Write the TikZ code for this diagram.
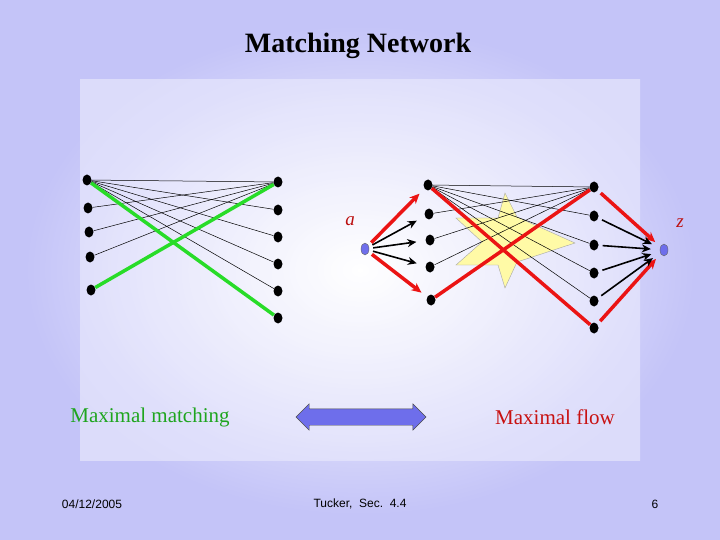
\documentclass[tikz,border=0pt]{standalone}
\usepackage{fontspec}
\setmainfont{Liberation Serif}
\newfontfamily\footfont{Liberation Sans}
\usetikzlibrary{arrows.meta,shapes.arrows,shapes.geometric}
\definecolor{bgblue}{RGB}{196,196,248}
\definecolor{mgreen}{RGB}{40,220,40}
\definecolor{mred}{RGB}{235,20,20}
\definecolor{dblue}{RGB}{110,110,235}

\begin{document}
\begin{tikzpicture}[x=1pt, y=-1pt,
    dot/.style={ellipse, fill=black, inner sep=0pt, minimum width=9pt, minimum height=11pt},
    src/.style={ellipse, fill=dblue, draw=black!60, inner sep=0pt, minimum width=8pt, minimum height=12pt},
    thin/.style={black, line width=0.5pt},
    match/.style={mgreen, line width=3.5pt},
    flow/.style={mred, line width=3.5pt},
    farr/.style={-{Stealth[length=10pt,width=9pt]}, shorten >=7pt, shorten <=4pt},
    barr/.style={black, line width=1.6pt, -{Stealth[length=9pt,width=8pt]}, shorten >=9pt, shorten <=4pt}]
  \useasboundingbox (0,0) rectangle (720,540);
  \fill[bgblue] (0,0) rectangle (720,540);
  \shade[inner color=white, outer color=bgblue, draw=none] (25,25) rectangle (695,515);
  \shade[inner color=white, outer color=white!60!bgblue, draw=none, opacity=0.7] (80,80) rectangle (640,460);

  \node (title) at (358,46) {\fontsize{28}{32}\selectfont\bfseries Matching Network};

  % left graph
  \foreach \i/\x/\y in {1/87/180, 2/88/208, 3/89/232, 4/90/257, 5/91/290}
    \node[dot] (l\i) at (\x,\y) {};
  \foreach \i/\y in {1/182, 2/210, 3/237, 4/264, 5/291, 6/318}
    \node[dot] (r\i) at (278,\y) {};
  \foreach \j in {1,...,5} \draw[thin] (l1) -- (r\j);
  \foreach \j in {2,3,4} \draw[thin] (l\j) -- (r1);
  \draw[match] (l1) -- (r6);
  \draw[match] (l5) -- (r1);

  % right network
  \fill[yellow!35, draw=gray!70] (505,193) -- (517,217) -- (575,243) -- (517,262)
    -- (505,288) -- (498,265) -- (456,265) -- (482,242) -- (456,218) -- (498,218) -- cycle;
  \node[src] (a) at (365,249) {};
  \node[src] (z) at (664,250) {};
  \node[text=mred!80!black] (alab) at (350,221) {\fontsize{19}{22}\selectfont\itshape a};
  \node[text=mred!80!black] (zlab) at (680,223) {\fontsize{19}{22}\selectfont\itshape z};
  \foreach \i/\x/\y in {1/428/185, 2/429/214, 3/430/240, 4/430/267, 5/431/300}
    \node[dot] (p\i) at (\x,\y) {};
  \foreach \i/\y in {1/187, 2/216, 3/245, 4/273, 5/301, 6/328}
    \node[dot] (q\i) at (594,\y) {};
  \foreach \j in {1,...,5} \draw[thin] (p1) -- (q\j);
  \foreach \j in {2,3,4} \draw[thin] (p\j) -- (q1);
  \draw[flow] (p1) -- (q6);
  \draw[flow] (p5) -- (q1);
  \draw[flow, farr] (a) -- (p1);
  \draw[flow, farr] (a) -- (p5);
  \foreach \j in {2,3,4} \draw[barr] (a) -- (p\j);
  \draw[flow, farr] (q1) -- (z);
  \draw[flow, farr] (q6) -- (z);
  \foreach \j in {2,...,5} \draw[barr] (q\j) -- (z);

  % bottom
  \node[text=mgreen!75!black] (mm) at (150,417) {\fontsize{21}{24}\selectfont Maximal matching};
  \node[text=mred!85!black] (mf) at (555,417) {\fontsize{21}{24}\selectfont Maximal flow};
  \node[double arrow, fill=dblue, draw=black!70, inner sep=8pt, double arrow head extend=5pt,
    minimum height=130pt] (eq) at (361,417) {};

  \node (date) at (92,504) {\footfont\fontsize{12}{14}\selectfont 04/12/2005};
  \node (src) at (360,504) {\footfont\fontsize{12}{14}\selectfont Tucker,\ \ Sec.\ \ 4.4};
  \node (page) at (655,504) {\footfont\fontsize{12}{14}\selectfont 6};
\end{tikzpicture}
\end{document}
